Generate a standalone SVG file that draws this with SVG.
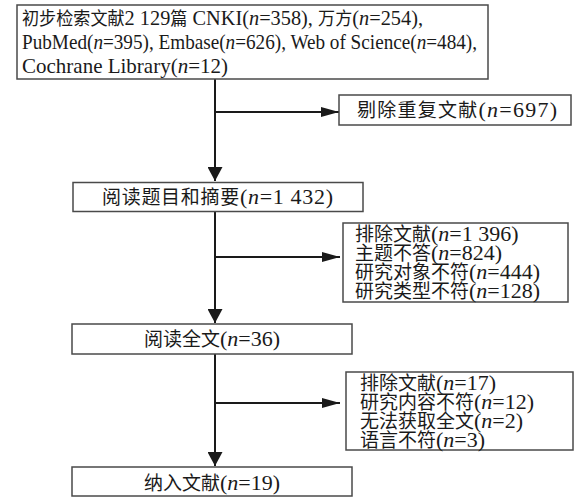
<svg xmlns="http://www.w3.org/2000/svg" width="584" height="500" viewBox="0 0 584 500">
<style>
.box{fill:#fff;stroke:#4a4a4a;stroke-width:1.5}
.t{font-family:"Liberation Serif","Noto Sans CJK SC",serif;font-size:22px;fill:#1a1a1a}
.c{font-family:"Noto Sans CJK SC",sans-serif;font-size:19px}
.ct{font-family:"Noto Sans CJK SC",sans-serif;font-size:18.5px}
.i{font-style:italic}
.ln{fill:none;stroke:#1a1a1a;stroke-width:2}
</style>
<defs>
<marker id="ad" markerUnits="userSpaceOnUse" markerWidth="14" markerHeight="15" refX="14" refY="7.5" orient="auto"><path d="M0,0 L14,7.5 L0,15 z" fill="#1a1a1a"/></marker>
<marker id="ah" markerUnits="userSpaceOnUse" markerWidth="18" markerHeight="10" refX="18" refY="5" orient="auto"><path d="M0,0 L18,5 L0,10 z" fill="#1a1a1a"/></marker>
</defs>
<rect width="584" height="500" fill="#fff"/>
<g id="connectors">
<path class="ln" d="M215,79 V181" marker-end="url(#ad)"/>
<path class="ln" d="M215,211 V323" marker-end="url(#ad)"/>
<path class="ln" d="M215,354 V466" marker-end="url(#ad)"/>
<path class="ln" d="M215,112 H339" marker-end="url(#ah)"/>
<path class="ln" d="M215,257 H340" marker-end="url(#ah)"/>
<path class="ln" d="M215,403 H340" marker-end="url(#ah)"/>
</g>
<g id="n1">
<rect class="box" x="17" y="5" width="471" height="74"/>
<text class="t"><tspan x="22" y="24.5" textLength="401" lengthAdjust="spacingAndGlyphs"><tspan class="ct">初步检索文献</tspan>2 129<tspan class="ct">篇</tspan> CNKI(<tspan class="i">n</tspan>=358), <tspan class="ct">万方</tspan>(<tspan class="i">n</tspan>=254),</tspan><tspan x="22" y="48.5" textLength="455" lengthAdjust="spacingAndGlyphs">PubMed(<tspan class="i">n</tspan>=395), Embase(<tspan class="i">n</tspan>=626), Web of Science(<tspan class="i">n</tspan>=484),</tspan><tspan x="22" y="72.5" textLength="206" lengthAdjust="spacingAndGlyphs">Cochrane Library(<tspan class="i">n</tspan>=12)</tspan></text>
</g>
<g id="n2">
<rect class="box" x="339" y="95" width="232" height="30"/>
<text class="t" x="357" y="117" textLength="200" lengthAdjust="spacing"><tspan class="c">剔除重复文献</tspan>(<tspan class="i">n</tspan>=697)</text>
</g>
<g id="n3">
<rect class="box" x="73" y="182.5" width="290" height="29"/>
<text class="t" x="102" y="204" textLength="231" lengthAdjust="spacing"><tspan class="c">阅读题目和摘要</tspan>(<tspan class="i">n</tspan>=1 432)</text>
</g>
<g id="n4">
<rect class="box" x="343" y="223" width="225" height="79"/>
<text class="t"><tspan x="355" y="241"><tspan class="c">排除文献</tspan>(<tspan class="i">n</tspan>=1 396)</tspan><tspan x="355" y="260"><tspan class="c">主题不答</tspan>(<tspan class="i">n</tspan>=824)</tspan><tspan x="355" y="279"><tspan class="c">研究对象不符</tspan>(<tspan class="i">n</tspan>=444)</tspan><tspan x="355" y="298"><tspan class="c">研究类型不符</tspan>(<tspan class="i">n</tspan>=128)</tspan></text>
</g>
<g id="n5">
<rect class="box" x="72" y="324" width="280" height="30"/>
<text class="t" x="212" y="346" text-anchor="middle"><tspan class="c">阅读全文</tspan>(<tspan class="i">n</tspan>=36)</text>
</g>
<g id="n6">
<rect class="box" x="346" y="372" width="227" height="78"/>
<text class="t"><tspan x="360" y="390"><tspan class="c">排除文献</tspan>(<tspan class="i">n</tspan>=17)</tspan><tspan x="360" y="409"><tspan class="c">研究内容不符</tspan>(<tspan class="i">n</tspan>=12)</tspan><tspan x="360" y="428"><tspan class="c">无法获取全文</tspan>(<tspan class="i">n</tspan>=2)</tspan><tspan x="360" y="447"><tspan class="c">语言不符</tspan>(<tspan class="i">n</tspan>=3)</tspan></text>
</g>
<g id="n7">
<rect class="box" x="72" y="467" width="280" height="29"/>
<text class="t" x="212" y="490" text-anchor="middle"><tspan class="c">纳入文献</tspan>(<tspan class="i">n</tspan>=19)</text>
</g>
</svg>
